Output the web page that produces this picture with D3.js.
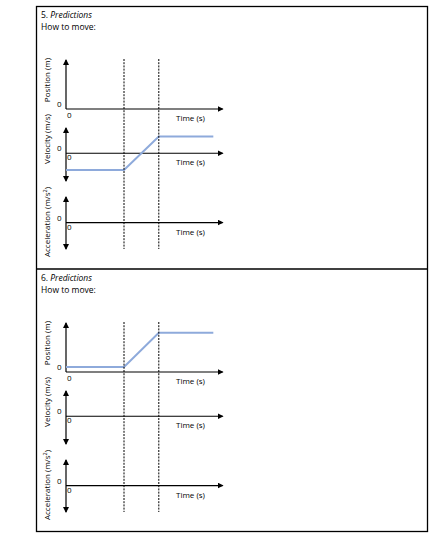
<!DOCTYPE html>
<html>
<head>
<meta charset="utf-8">
<script src="https://cdn.jsdelivr.net/npm/d3@7"></script>
<style>
  body { margin: 0; background: #fff; }
  text { font-family: "Open Sans", "Noto Sans", sans-serif; fill: #000; }
</style>
</head>
<body>
<svg id="chart" width="446" height="555"></svg>
<script>
// Two worksheet panels, each with position / velocity / acceleration axes
const panelTitles = ["5.", "6."];
const graphNames = ["Position (m)", "Velocity (m/s)", "Acceleration (m/s\u00B2)"];
const timeMarks = [5, 8];          // dashed guide lines (s)
const timeEnd = 13.5;              // end of time axis arrow
// predicted traces: [panel, graph] -> points (t, value)
const traces = [
  { panel: 0, graph: 1, t: [0, 5, 8, 12.7], v: [-1, -1, 1, 1] },
  { panel: 1, graph: 0, t: [0, 5, 8, 12.7], v: [0.15, 0.15, 1.15, 1.15] }
];

const svg = d3.select("#chart");
const panelH = 263;
const blue = "#8eaadb";

// marker for arrows
svg.append("defs").append("marker")
  .attr("id", "arr").attr("viewBox", "0 0 6 6")
  .attr("refX", 5).attr("refY", 3)
  .attr("markerWidth", 6).attr("markerHeight", 6)
  .attr("markerUnits", "userSpaceOnUse")
  .attr("orient", "auto-start-reverse")
  .append("path").attr("d", "M0,0 L6,3 L0,6 Z").attr("fill", "#000");

const x = d3.scaleLinear().domain([0, timeEnd]).range([66, 222.6]);

// per graph vertical layout (panel 1 pixel coords): top arrow, bottom arrow, value domain
const graphs = [
  { top: 60, bottom: 109, domain: [0, 1.44], down: false, labelY: 80 },
  { top: 128, bottom: 181, domain: [-1.65, 1.5], down: true, labelY: 139 },
  { top: 197, bottom: 249, domain: [-1.55, 1.5], down: true, labelY: 222 }
];

// outer frame + divider
svg.append("rect").attr("x", 36.5).attr("y", 6.5).attr("width", 391).attr("height", 525)
  .attr("fill", "none").attr("stroke", "#000").attr("stroke-width", 1.3);
svg.append("line").attr("x1", 36).attr("x2", 428).attr("y1", 269).attr("y2", 269)
  .attr("stroke", "#000").attr("stroke-width", 1.3);

panelTitles.forEach((title, p) => {
  const off = p * panelH;
  const g = svg.append("g").attr("transform", `translate(0,${off})`);

  const t = g.append("text").attr("x", 41).attr("y", 18).style("font-size", "8.5px");
  t.append("tspan").text(title + " ");
  t.append("tspan").style("font-style", "italic").text("Predictions");
  g.append("text").attr("x", 41).attr("y", 30).style("font-size", "8.5px").text("How to move:");

  graphs.forEach((gr, i) => {
    const y = d3.scaleLinear().domain(gr.domain).range([gr.bottom, gr.top]);
    const y0 = y(0);

    // time axis
    g.append("line").attr("x1", x(0)).attr("x2", x(timeEnd))
      .attr("y1", y0).attr("y2", y0)
      .attr("stroke", "#000").attr("stroke-width", 1.2)
      .attr("marker-end", "url(#arr)");
    // value axis
    g.append("line").attr("x1", x(0)).attr("x2", x(0))
      .attr("y1", gr.down ? y(gr.domain[0]) : y0).attr("y2", y(gr.domain[1]))
      .attr("stroke", "#000").attr("stroke-width", 1.2)
      .attr("marker-end", "url(#arr)")
      .attr("marker-start", gr.down ? "url(#arr)" : null);

    g.append("text").attr("x", 57).attr("y", y0 - 2).style("font-size", "8px").text("0");
    g.append("text").attr("x", x(0) + 1).attr("y", y0 + (i === 0 ? 9 : 7)).style("font-size", "8px").text("0");
    g.append("text").attr("x", 176).attr("y", y0 + 12).style("font-size", "8px").text("Time  (s)");

    const lab = g.append("text")
      .attr("transform", `translate(50,${gr.labelY}) rotate(-90)`)
      .attr("text-anchor", "middle").style("font-size", "8px");
    if (i === 2) {
      lab.append("tspan").text("Acceleration  (m/s");
      lab.append("tspan").attr("dy", -3).style("font-size", "5.5px").text("2");
      lab.append("tspan").attr("dy", 3).text(")");
    } else {
      lab.text(graphNames[i].replace(" ", "  "));
    }

    traces.filter(d => d.panel === p && d.graph === i).forEach(tr => {
      const pts = tr.t.map((tt, k) => [x(tt), y(tr.v[k])]);
      g.append("path").attr("d", d3.line()(pts))
        .attr("fill", "none").attr("stroke", blue).attr("stroke-width", 2);
    });
  });

  // dashed guide lines
  timeMarks.forEach(tm => {
    g.append("line").attr("x1", x(tm)).attr("x2", x(tm))
      .attr("y1", 59).attr("y2", 249)
      .attr("stroke", "#000").attr("stroke-width", 1)
      .attr("stroke-dasharray", "2,1.2");
  });
});
</script>
</body>
</html>
